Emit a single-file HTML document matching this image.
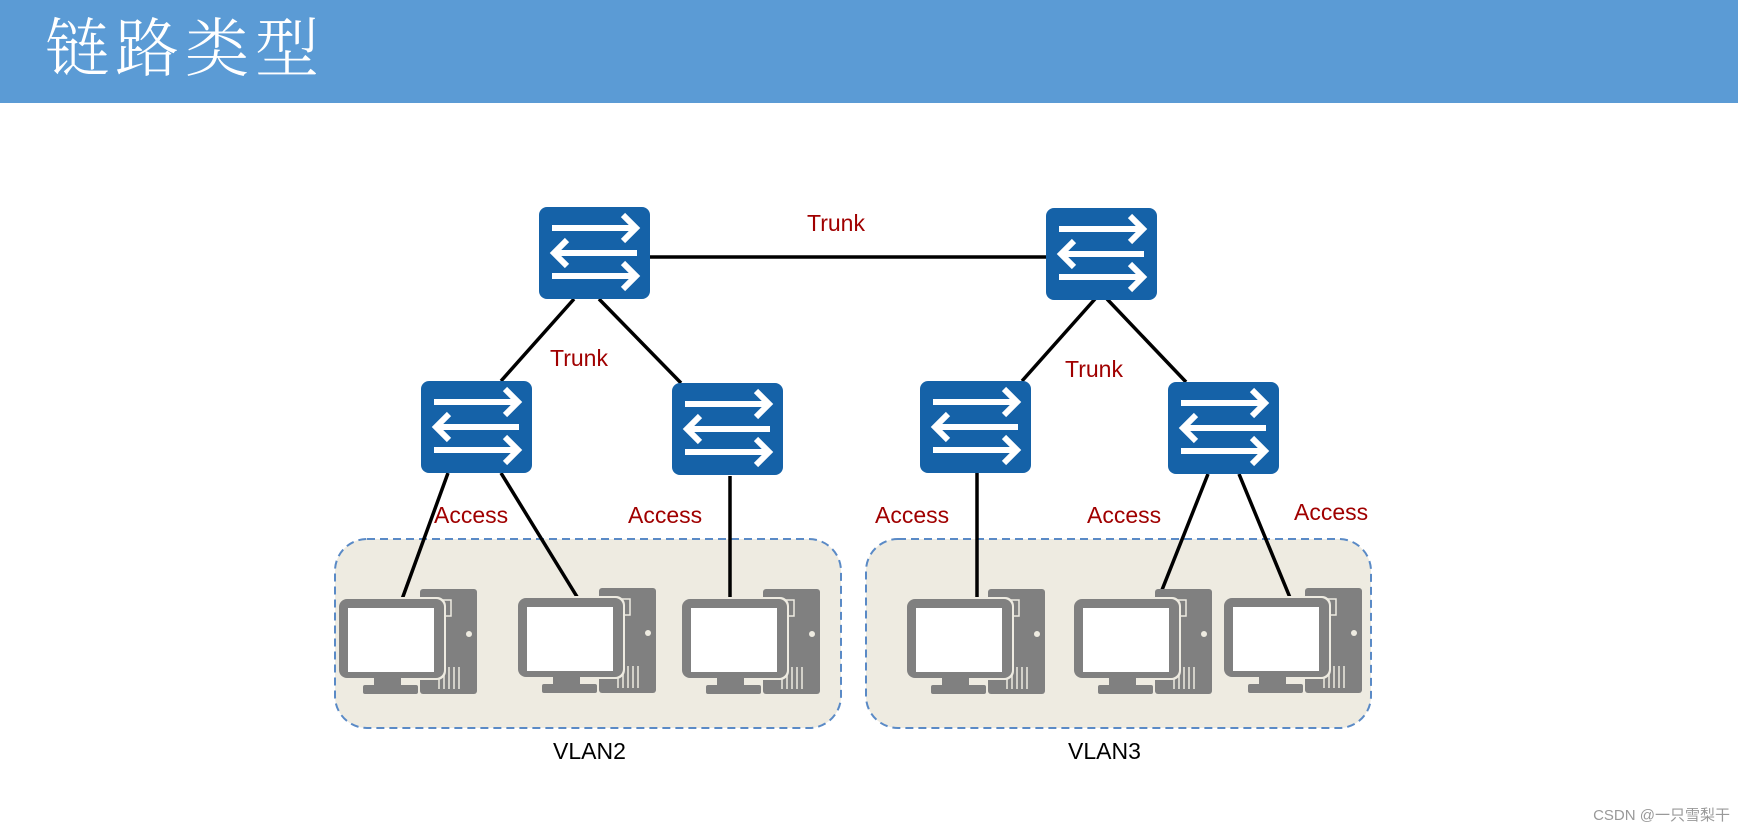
<!DOCTYPE html>
<html><head><meta charset="utf-8"><style>
html,body{margin:0;padding:0;width:1738px;height:831px;overflow:hidden;background:#fff}
.hdr{position:absolute;left:0;top:0;width:1738px;height:103px;background:#5b9bd5}
.title{position:absolute;left:45px;top:4px;font-family:"Noto Serif CJK SC","WenQuanYi Zen Hei",serif;font-size:64px;font-weight:300;color:#fff;letter-spacing:6px;line-height:80px}
svg{position:absolute;left:0;top:0}
.lbl{font-family:"Liberation Sans","DejaVu Sans",sans-serif;font-size:23px;fill:#a00000}
.vl{font-family:"Liberation Sans","DejaVu Sans",sans-serif;font-size:23px;fill:#000}
.wm{position:absolute;right:8px;bottom:6px;font-family:"Liberation Sans","Noto Sans CJK SC",sans-serif;font-size:15px;color:#999}
</style></head><body>
<div class="hdr"></div>
<div class="title">链路类型</div>
<svg width="1738" height="831" viewBox="0 0 1738 831">
<defs>
<g id="sw">
<rect x="0" y="0" width="111" height="92" rx="8" fill="#1562a8"/>
<g stroke="#fff" stroke-width="6" fill="none" stroke-linecap="butt">
<line x1="13" y1="21" x2="96" y2="21"/><polyline points="84,8 97,21 84,34"/>
<line x1="16" y1="46" x2="98" y2="46"/><polyline points="28,33 15,46 28,59"/>
<line x1="13" y1="69" x2="96" y2="69"/><polyline points="84,56 97,69 84,82"/>
</g></g>
<g id="pc">
<rect x="81" y="0" width="57" height="105" rx="3" fill="#808080"/>
<rect x="84" y="11" width="28" height="16" fill="none" stroke="#eeebe1" stroke-width="1.5"/>
<circle cx="130" cy="45" r="3" fill="#eeebe1"/>
<g stroke="#eeebe1" stroke-width="1.5"><line x1="100" y1="78" x2="100" y2="100"/><line x1="105" y1="78" x2="105" y2="100"/><line x1="110" y1="78" x2="110" y2="100"/><line x1="115" y1="78" x2="115" y2="100"/><line x1="120" y1="78" x2="120" y2="100"/></g>
<rect x="-2" y="8" width="109" height="83" rx="9" fill="#eeebe1"/>
<rect x="0" y="10" width="105" height="79" rx="8" fill="#808080"/>
<rect x="9" y="19" width="86" height="64" fill="#fff"/>
<rect x="35" y="88" width="27" height="9" fill="#808080"/>
<rect x="24" y="96" width="55" height="9" rx="2" fill="#808080"/>
</g>
</defs>
<rect x="335" y="539" width="506" height="189" rx="32" fill="#eeebe1" stroke="#5a8ac6" stroke-width="2" stroke-dasharray="8,5"/>
<rect x="866" y="539" width="505" height="189" rx="32" fill="#eeebe1" stroke="#5a8ac6" stroke-width="2" stroke-dasharray="8,5"/>
<g stroke="#000" stroke-width="3.5">
<line x1="650" y1="257" x2="1046" y2="257"/>
<line x1="574" y1="299" x2="501" y2="381"/>
<line x1="599" y1="299" x2="681" y2="383"/>
<line x1="1095" y1="299" x2="1022" y2="381"/>
<line x1="1107" y1="299" x2="1186" y2="382"/>
<line x1="448" y1="473" x2="401" y2="602"/>
<line x1="501" y1="473" x2="579" y2="600"/>
<line x1="730" y1="476" x2="730" y2="602"/>
<line x1="977" y1="473" x2="977" y2="602"/>
<line x1="1208" y1="474" x2="1158" y2="600"/>
<line x1="1239" y1="474" x2="1291" y2="600"/>
</g>
<use href="#sw" x="539" y="207"/>
<use href="#sw" x="1046" y="208"/>
<use href="#sw" x="421" y="381"/>
<use href="#sw" x="672" y="383"/>
<use href="#sw" x="920" y="381"/>
<use href="#sw" x="1168" y="382"/>
<use href="#pc" x="339" y="589"/>
<use href="#pc" x="518" y="588"/>
<use href="#pc" x="682" y="589"/>
<use href="#pc" x="907" y="589"/>
<use href="#pc" x="1074" y="589"/>
<use href="#pc" x="1224" y="588"/>
<text class="lbl" x="807" y="231">Trunk</text>
<text class="lbl" x="550" y="366">Trunk</text>
<text class="lbl" x="1065" y="377">Trunk</text>
<text class="lbl" x="434" y="523">Access</text>
<text class="lbl" x="628" y="523">Access</text>
<text class="lbl" x="875" y="523">Access</text>
<text class="lbl" x="1087" y="523">Access</text>
<text class="lbl" x="1294" y="520">Access</text>
<text class="vl" x="553" y="759">VLAN2</text>
<text class="vl" x="1068" y="759">VLAN3</text>
</svg>
<div class="wm">CSDN @一只雪梨干</div>
</body></html>
